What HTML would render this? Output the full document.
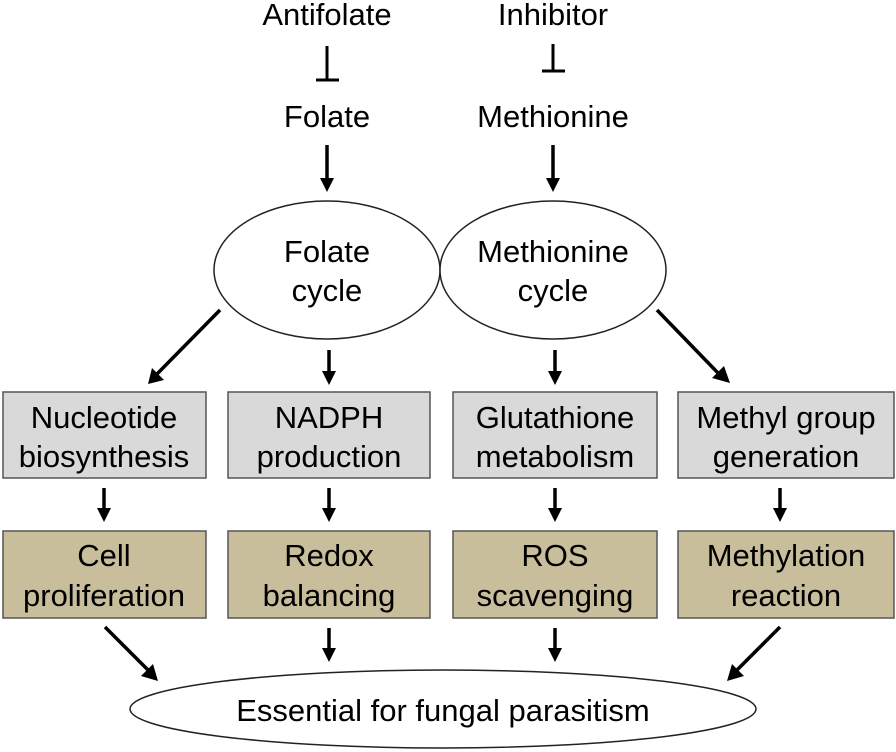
<!DOCTYPE html>
<html><head><meta charset="utf-8"><style>
html,body{margin:0;padding:0;background:#fff;width:896px;height:752px;overflow:hidden}
</style></head><body>
<svg width="896" height="752" viewBox="0 0 896 752" xmlns="http://www.w3.org/2000/svg" font-family="Liberation Sans, sans-serif" font-size="31" text-anchor="middle">
<g fill="#000">
<text x="327" y="25">Antifolate</text>
<text x="553" y="25">Inhibitor</text>
<text x="327" y="127">Folate</text>
<text x="553" y="127">Methionine</text>
</g>
<g stroke="#000" stroke-width="3" fill="none">
<line x1="327" y1="46" x2="327" y2="80"/><line x1="316" y1="80" x2="339" y2="80"/>
<line x1="553" y1="44" x2="553" y2="71"/><line x1="542" y1="71" x2="565" y2="71"/>
</g>
<g stroke="#222" stroke-width="1.5" fill="#fff">
<ellipse cx="327" cy="270" rx="113" ry="69"/>
<ellipse cx="553" cy="270" rx="113" ry="69"/>
<ellipse cx="443" cy="709" rx="313" ry="39"/>
</g>
<g>
<text x="327" y="262">Folate</text><text x="327" y="301">cycle</text>
<text x="553" y="262">Methionine</text><text x="553" y="301">cycle</text>
<text x="443" y="721">Essential for fungal parasitism</text>
</g>
<g stroke="#555" stroke-width="1.5">
<rect x="3" y="392" width="203" height="86" fill="#d9d9d9"/>
<rect x="228" y="392" width="202" height="86" fill="#d9d9d9"/>
<rect x="453" y="392" width="204" height="86" fill="#d9d9d9"/>
<rect x="678" y="392" width="216" height="86" fill="#d9d9d9"/>
<rect x="3" y="531" width="203" height="87" fill="#c8be9b"/>
<rect x="228" y="531" width="202" height="87" fill="#c8be9b"/>
<rect x="453" y="531" width="204" height="87" fill="#c8be9b"/>
<rect x="678" y="531" width="216" height="87" fill="#c8be9b"/>
</g>
<g>
<text x="104" y="428">Nucleotide</text><text x="104" y="467">biosynthesis</text>
<text x="329" y="428">NADPH</text><text x="329" y="467">production</text>
<text x="555" y="428">Glutathione</text><text x="555" y="467">metabolism</text>
<text x="786" y="428">Methyl group</text><text x="786" y="467">generation</text>
<text x="104" y="566">Cell</text><text x="104" y="606">proliferation</text>
<text x="329" y="566">Redox</text><text x="329" y="606">balancing</text>
<text x="555" y="566">ROS</text><text x="555" y="606">scavenging</text>
<text x="786" y="566">Methylation</text><text x="786" y="606">reaction</text>
</g>
<g stroke="#000" stroke-width="3.5">
<line x1="327" y1="145" x2="327" y2="178"/>
<line x1="553" y1="145" x2="553" y2="178"/>
<line x1="220" y1="310" x2="157" y2="374"/>
<line x1="657" y1="310" x2="718" y2="373"/>
<line x1="329" y1="350" x2="329" y2="373"/>
<line x1="555" y1="350" x2="555" y2="373"/>
<line x1="104" y1="488" x2="104" y2="510"/>
<line x1="329" y1="488" x2="329" y2="510"/>
<line x1="555" y1="488" x2="555" y2="510"/>
<line x1="780" y1="488" x2="780" y2="510"/>
<line x1="105" y1="627" x2="148" y2="670"/>
<line x1="329" y1="628" x2="329" y2="650"/>
<line x1="555" y1="628" x2="555" y2="650"/>
<line x1="780" y1="627" x2="737" y2="670"/>
</g>
<g fill="#000">
<polygon points="320,178 334,178 327,192"/>
<polygon points="546,178 560,178 553,192"/>
<polygon points="148,384 152,368 164,380"/>
<polygon points="730,383 712,378 724,366"/>
<polygon points="322,371 336,371 329,385"/>
<polygon points="548,371 562,371 555,385"/>
<polygon points="97,508 111,508 104,522"/>
<polygon points="322,508 336,508 329,522"/>
<polygon points="548,508 562,508 555,522"/>
<polygon points="773,508 787,508 780,522"/>
<polygon points="158,681 141,676 153,664"/>
<polygon points="322,648 336,648 329,662"/>
<polygon points="548,648 562,648 555,662"/>
<polygon points="727,681 732,664 744,676"/>
</g>
</svg>
</body></html>
